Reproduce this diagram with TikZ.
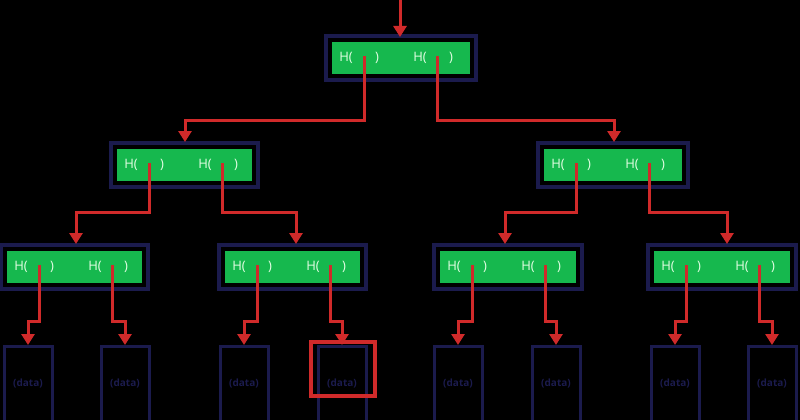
\documentclass[tikz,border=0pt]{standalone}
\usepackage{fontspec}
\setmainfont{Open Sans}
\usetikzlibrary{arrows.meta}
\definecolor{nv}{HTML}{1B1B4D}
\definecolor{gr}{HTML}{16B84E}
\definecolor{rd}{HTML}{D02A2A}
\begin{document}
\begin{tikzpicture}[x=1pt,y=-1pt,
 outer/.style={draw=nv,line width=3.5pt},
 inner/.style={fill=gr},
 ht/.style={text=white!90!green,font=\fontsize{13}{15}\selectfont,anchor=center,inner sep=0},
 ptr/.style={draw=rd,line width=3pt,-{Triangle[length=11pt,width=13pt]}},
 dbox/.style={draw=nv,line width=3pt},
 dt/.style={text=nv,font=\fontsize{10}{12}\selectfont\bfseries,inner sep=0}]
\fill[black] (0,0) rectangle (800,420);
\useasboundingbox (0,0) rectangle (800,420);
\newcommand\hnode[4]{%
 \draw[outer] (#2,#3) rectangle ++(#4,44);
 \fill[inner] (#2+6,#3+6) rectangle ++(#4-12,32);
 \node[ht] at (#2+20,#3+22) {H(};
 \node[ht] at (#2+51,#3+22) {)};
 \node[ht] at (#2+94,#3+22) {H(};
 \node[ht] at (#2+125,#3+22) {)};
 \coordinate (#1a) at (#2+38,#3+20);
 \coordinate (#1b) at (#2+111,#3+20);}
\newcommand\dnode[2]{%
 \draw[dbox] (#2,346) rectangle ++(48,80);
 \node[dt] at (#2+24,383) {(data)};
 \coordinate (#1) at (#2+24,345);}
\hnode{r}{326}{36}{150}
\hnode{L}{111}{143}{147}
\hnode{R}{538}{143}{150}
\hnode{A}{1}{245}{147}
\hnode{B}{219}{245}{147}
\hnode{C}{434}{245}{148}
\hnode{D}{648}{245}{148}
\dnode{d1}{4}\dnode{d2}{101}\dnode{d3}{220}\dnode{d4}{318}
\dnode{d5}{434}\dnode{d6}{532}\dnode{d7}{651}\dnode{d8}{748}
\coordinate (top) at (400,0);
\draw[ptr] (top) -- (400,37);
\draw[ptr] (ra) |- (185,120) -- (185,142);
\draw[ptr] (rb) |- (614,120) -- (614,142);
\draw[ptr] (La) |- (76,212) -- (76,244);
\draw[ptr] (Lb) |- (296,212) -- (296,244);
\draw[ptr] (Ra) |- (505,212) -- (505,244);
\draw[ptr] (Rb) |- (727,212) -- (727,244);
\foreach \n/\l/\r/\dl/\dr in {A/28/125/d1/d2,B/244/342/d3/d4,C/458/556/d5/d6,D/675/772/d7/d8}{
 \draw[ptr] (\n a) |- (\l,321) -- (\dl);
 \draw[ptr] (\n b) |- (\r,321) -- (\dr);}
\draw[rd,line width=4.5pt] (311,342) rectangle (375,396);
\end{tikzpicture}
\end{document}
